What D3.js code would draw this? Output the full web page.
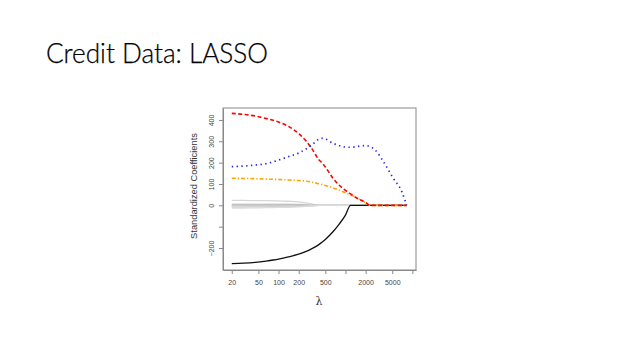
<!DOCTYPE html>
<html>
<head>
<meta charset="utf-8">
<script src="https://cdn.jsdelivr.net/npm/d3@7/dist/d3.min.js"></script>
<style>
  body { margin: 0; background: #fff; }
  #chart { width: 638px; height: 359px; }
</style>
</head>
<body>
<div id="chart"></div>
<script>
// lambda grid (x values) shared by every coefficient path
var lambdas = [20, 30, 45, 65, 100, 140, 200, 260, 320, 400, 450, 500, 650, 800, 1000, 1190, 1500, 2000, 2330, 2800, 3700, 5200, 7000, 8200];

// main coefficients
var rating  = [431, 426, 418, 407, 390, 370, 336, 300, 262, 214, 198, 180, 127, 95, 70, 54, 33, 14, 0, 0, 0, 0, 0, 0];
var limit   = [181, 184, 189, 195, 212, 228, 245, 265, 284, 310, 314, 311, 291, 280, 273, 272, 276, 280, 275, 258, 204, 126, 62, 0];
var student = [127, 126, 125, 123, 121, 119, 116, 113, 108, 101, 97, 93, 82, 72, 59, 50, 34, 12, 0, 0, 0, 0, 0, 0];
var income  = [-273, -271, -267, -261, -252, -242, -229, -216, -202, -184, -172, -160, -124, -89, -46, 0, 0, 0, 0, 0, 0, 0, 0, 0];

// the small grey ones
var other1 = [23, 23, 22, 22, 21, 19, 16, 11, 5, 0, 0, 0, 0, 0, 0, 0, 0, 0, 0, 0, 0, 0, 0, 0];
var other2 = [6, 6, 6, 5, 5, 5, 4, 3, 1, 0, 0, 0, 0, 0, 0, 0, 0, 0, 0, 0, 0, 0, 0, 0];
var other3 = [2, 2, 2, 2, 2, 2, 2, 1, 1, 0, 0, 0, 0, 0, 0, 0, 0, 0, 0, 0, 0, 0, 0, 0];
var other4 = [-3, -3, -3, -3, -3, -3, -2, -2, -1, 0, 0, 0, 0, 0, 0, 0, 0, 0, 0, 0, 0, 0, 0, 0];
var other5 = [-8, -8, -7, -7, -6, -5, -5, -3, -2, 0, 0, 0, 0, 0, 0, 0, 0, 0, 0, 0, 0, 0, 0, 0];
var other6 = [-13, -13, -12, -11, -10, -9, -7, -5, -3, -1, 0, 0, 0, 0, 0, 0, 0, 0, 0, 0, 0, 0, 0, 0];

var xTicks = [20, 50, 100, 200, 500, 1000, 2000, 5000, 10000];
var xTickLabels = ["20", "50", "100", "200", "500", "", "2000", "5000", ""];
var yTicks = [-200, -100, 0, 100, 200, 300, 400];
var yTickLabels = ["\u2212200", "", "0", "100", "200", "300", "400"];

var chartDiv = document.getElementById("chart");
var width = 638, height = 359;

var svg = d3.select(chartDiv).append("svg")
    .attr("width", width)
    .attr("height", height);

// slide title
var title = svg.append("text")
    .attr("x", 46)
    .attr("y", 63)
    .style("font-family", "Lato, 'Open Sans', sans-serif")
    .style("font-weight", 300)
    .style("font-size", "27px")
    .style("fill", "#000")
    .style("stroke", "#000")
    .style("stroke-width", 0.25)
    .text("Credit Data: LASSO");
var tl = title.node().getComputedTextLength();
if (tl > 224) title.attr("textLength", 222).attr("lengthAdjust", "spacingAndGlyphs");

var box = {left: 223, right: 416, top: 108, bottom: 270};

var x = d3.scaleLog().domain([14.8, 11320]).range([box.left, box.right]);
var y = d3.scaleLinear().domain([-303, 456]).range([box.bottom, box.top]);

var line = d3.line()
    .x(function(d) { return x(d[0]); })
    .y(function(d) { return y(d[1]); })
    .curve(d3.curveMonotoneX);

function pairs(vals) {
    return lambdas.map(function(l, i) { return [l, vals[i]]; });
}

var g = svg.append("g");

// grey paths first
var greys = [
    {v: other1, c: "#d6d6d6"},
    {v: other2, c: "#d0d0d0"},
    {v: other3, c: "#bdbdbd"},
    {v: other4, c: "#c4c4c4"},
    {v: other5, c: "#d0d0d0"},
    {v: other6, c: "#dcdcdc"}
];
greys.forEach(function(s) {
    g.append("path")
        .attr("d", line(pairs(s.v)))
        .attr("fill", "none")
        .attr("stroke", s.c)
        .attr("stroke-width", 1.3);
});

g.append("path")
    .attr("d", line(pairs(income)))
    .attr("fill", "none")
    .attr("stroke", "#111")
    .attr("stroke-width", 1.3);

g.append("path")
    .attr("d", line(pairs(student)))
    .attr("fill", "none")
    .attr("stroke", "orange")
    .attr("stroke-width", 1.6)
    .attr("stroke-dasharray", "4,2,1.3,2");

g.append("path")
    .attr("d", line(pairs(rating)))
    .attr("fill", "none")
    .attr("stroke", "#f00")
    .attr("stroke-width", 1.6)
    .attr("stroke-dasharray", "4,2.5");

g.append("path")
    .attr("d", line(pairs(limit)))
    .attr("fill", "none")
    .attr("stroke", "#2a2ae6")
    .attr("stroke-width", 1.7)
    .attr("stroke-dasharray", "1.4,3.4");

// plot frame
svg.append("rect")
    .attr("x", box.left)
    .attr("y", box.top)
    .attr("width", box.right - box.left)
    .attr("height", box.bottom - box.top)
    .attr("fill", "none")
    .attr("stroke", "#888")
    .attr("stroke-width", 1);

// axes
var xAxis = svg.append("g")
    .attr("transform", "translate(0," + box.bottom + ")")
    .call(d3.axisBottom(x)
        .tickValues(xTicks)
        .tickFormat(function(d, i) { return xTickLabels[i]; })
        .tickSize(4)
        .tickSizeOuter(0)
        .tickPadding(6));

var yAxis = svg.append("g")
    .attr("transform", "translate(" + box.left + ",0)")
    .call(d3.axisLeft(y)
        .tickValues(yTicks)
        .tickFormat(function(d, i) { return yTickLabels[i]; })
        .tickSize(4)
        .tickSizeOuter(0));

[xAxis, yAxis].forEach(function(a) {
    a.select(".domain").attr("stroke", "#888");
    a.selectAll(".tick line").attr("stroke", "#888");
    a.selectAll(".tick text")
        .style("font-family", "'Liberation Sans', Arial, sans-serif")
        .style("font-size", "7px")
        .attr("fill", "#444");
});

// y tick labels read upward like R's default
yAxis.selectAll(".tick text")
    .attr("x", null).attr("dy", null)
    .attr("text-anchor", "middle")
    .attr("transform", "translate(-11,0) rotate(-90)")
    .attr("dy", "0.35em");

svg.append("text")
    .attr("transform", "translate(197," + 186 + ") rotate(-90)")
    .attr("text-anchor", "middle")
    .style("font-family", "'Liberation Sans', Arial, sans-serif")
    .style("font-size", "9.3px")
    .style("fill", "#333")
    .text("Standardized Coefficients");

svg.append("text")
    .attr("x", 319)
    .attr("y", 305)
    .attr("text-anchor", "middle")
    .style("font-family", "'DejaVu Serif', serif")
    .style("font-size", "11px")
    .style("fill", "#333")
    .text("\u03bb");
</script>
</body>
</html>
